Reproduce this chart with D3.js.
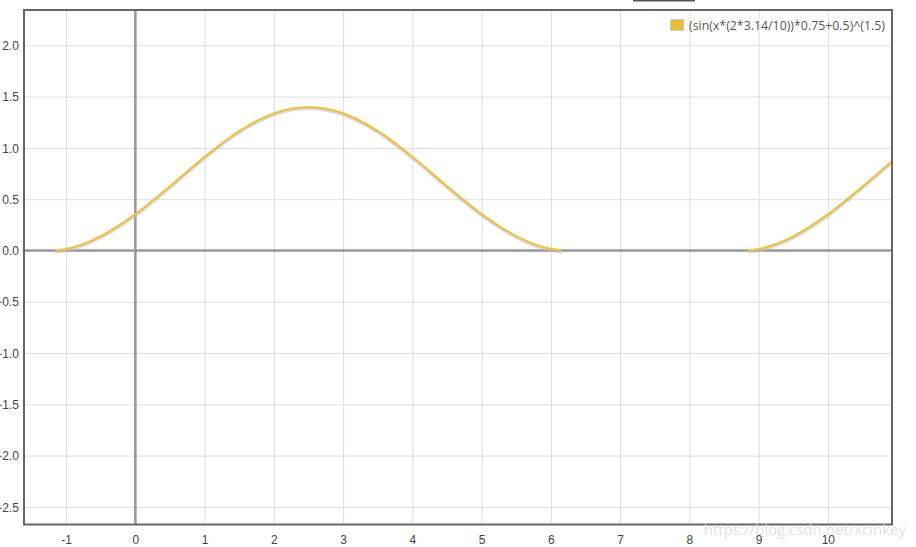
<!DOCTYPE html>
<html>
<head>
<meta charset="utf-8">
<script src="https://cdn.jsdelivr.net/npm/d3@7"></script>
<style>
  html, body { margin: 0; padding: 0; background: #fff; }
  svg { display: block; font-family: "Segoe UI", "Open Sans", "DejaVu Sans", sans-serif; }
</style>
</head>
<body>
<svg id="chart" width="916" height="547"></svg>
<script>
// ---- data ----
const legendLabel = "(sin(x*(2*3.14/10))*0.75+0.5)^(1.5)";
const xTicks = [-1, 0, 1, 2, 3, 4, 5, 6, 7, 8, 9, 10];
const yTicks = [-2.5, -2.0, -1.5, -1.0, -0.5, 0.0, 0.5, 1.0, 1.5, 2.0];
const xDomain = [-1.608, 10.926];
const yDomain = [-2.672, 2.345];
// first arc of the curve
const seg1X = [-1.16, -1.0, -0.75, -0.5, 0, 0.5, 1.0, 1.5, 2.0, 2.5, 3.0, 3.5, 4.0, 4.5, 5.0, 5.5, 5.75, 6.0, 6.16];
const seg1Y = [0.00, 0.014, 0.063, 0.139, 0.354, 0.626, 0.912, 1.164, 1.336, 1.398, 1.337, 1.165, 0.914, 0.627, 0.355, 0.140, 0.064, 0.015, 0.00];
// second arc (enters on the right)
const seg2X = [8.84, 9.0, 9.25, 9.5, 10.0, 10.5, 10.926];
const seg2Y = [0.00, 0.014, 0.062, 0.137, 0.351, 0.623, 0.870];
const watermark = "https://blog.csdn.net/xcinkey";

// ---- layout ----
const svg = d3.select("#chart");
const L = 24, T = 10, R = 892, B = 524.5;

const x = d3.scaleLinear().domain(xDomain).range([L, R]);
const y = d3.scaleLinear().domain(yDomain).range([B, T]);

// small dark mark at very top
svg.append("rect").attr("x", 633).attr("y", 0).attr("width", 62).attr("height", 1.5).attr("fill", "#555");

svg.append("defs").append("clipPath").attr("id", "plotclip")
  .append("rect").attr("x", L).attr("y", T).attr("width", R - L).attr("height", B - T);

// grid
const gx = svg.append("g").attr("transform", `translate(0,${B})`)
  .call(d3.axisBottom(x).tickValues(xTicks).tickSize(-(B - T)).tickFormat(d => d));
gx.select(".domain").remove();
gx.selectAll(".tick line").attr("stroke", "#ddd").attr("stroke-width", 1);
gx.selectAll(".tick text").attr("fill", "#444").attr("font-size", 12).attr("dy", "1.35em");

const gy = svg.append("g").attr("transform", `translate(${L},0)`)
  .call(d3.axisLeft(y).tickValues(yTicks).tickSize(-(R - L)).tickFormat(d3.format(".1f")));
gy.select(".domain").remove();
gy.selectAll(".tick line").attr("stroke", "#ddd").attr("stroke-width", 1);
gy.selectAll(".tick text").attr("fill", "#444").attr("font-size", 12).attr("x", -5).attr("dy", "0.35em");

// zero axes
svg.append("line").attr("x1", x(0)).attr("x2", x(0)).attr("y1", T).attr("y2", B)
  .attr("stroke", "#999").attr("stroke-width", 2.5);
svg.append("line").attr("x1", L).attr("x2", R).attr("y1", y(0)).attr("y2", y(0))
  .attr("stroke", "#999").attr("stroke-width", 2.5);

// curves
const line = d3.line().x(d => x(d[0])).y(d => y(d[1])).curve(d3.curveMonotoneX);
const segs = [d3.zip(seg1X, seg1Y), d3.zip(seg2X, seg2Y)];
const cg = svg.append("g").attr("clip-path", "url(#plotclip)");
segs.forEach(s => {
  cg.append("path").attr("d", line(s)).attr("fill", "none")
    .attr("stroke", "#bbb").attr("stroke-opacity", 0.55).attr("stroke-width", 3)
    .attr("transform", "translate(0,1.5)");
  cg.append("path").attr("d", line(s)).attr("fill", "none")
    .attr("stroke", "#ebc04b").attr("stroke-width", 2.2);
});

// border
svg.append("rect").attr("x", L).attr("y", T).attr("width", R - L).attr("height", B - T)
  .attr("fill", "none").attr("stroke", "#666").attr("stroke-width", 2);

// legend
svg.append("rect").attr("x", 670.5).attr("y", 19.5).attr("width", 13).attr("height", 11)
  .attr("fill", "#ebbe3a").attr("stroke", "#ccc").attr("stroke-width", 1);
svg.append("text").attr("x", 689).attr("y", 30).attr("font-size", 12.3).attr("fill", "#555")
  .attr("textLength", 196).attr("lengthAdjust", "spacing")
  .text(legendLabel);

// watermark
svg.append("text").attr("x", 906).attr("y", 535).attr("text-anchor", "end")
  .attr("font-size", 15).attr("fill", "#ddd").attr("fill-opacity", 0.9).text(watermark);
</script>
</body>
</html>
